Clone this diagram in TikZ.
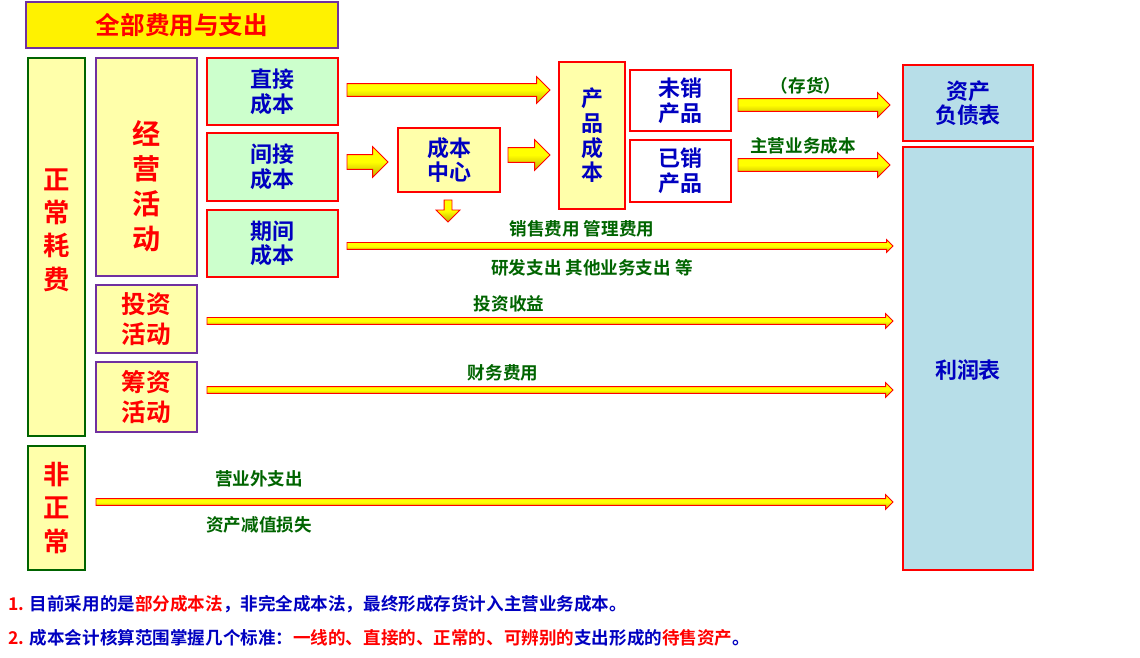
\documentclass[tikz,border=0pt]{standalone}
\usepackage{fontspec}
\setmainfont{Noto Sans CJK SC}[BoldFont={Noto Sans CJK SC Bold}]
\usetikzlibrary{shapes.arrows,positioning}
\definecolor{boxyellow}{RGB}{255,255,170}
\definecolor{boxgreen}{RGB}{204,255,204}
\definecolor{boxblue}{RGB}{183,222,232}
\definecolor{txtblue}{RGB}{0,0,192}
\definecolor{txtgreen}{RGB}{0,100,0}
\definecolor{frmpurple}{RGB}{112,48,160}
\definecolor{frmgreen}{RGB}{0,100,0}
\definecolor{arrdark}{RGB}{190,170,0}
% block arrow: name, tail x, y, length, shaft, head (pixels)
\newcommand{\blockarrow}[6]{%
  \node[blockarr, minimum height=#4*0.02cm, inner sep=#5*0.01cm,
        single arrow head extend=(#6-#5)*0.01cm] (#1) at (#2,#3) {};}
\tikzset{
  blockarr/.style={single arrow, anchor=tail, draw=red, line width=0.5pt,
    top color=yellow, bottom color=arrdark, middle color=yellow,
    minimum width=0pt, outer sep=0pt},
  box/.style={draw=red, line width=1.2pt, font=\bfseries\fontsize{12.5}{14}\selectfont,
    text=txtblue, align=center, inner sep=0pt},
  sidebox/.style={draw=frmpurple, line width=1.2pt, fill=boxyellow, text=red,
    font=\bfseries\fontsize{14}{17}\selectfont, align=center, inner sep=0pt},
  lbl/.style={text=txtgreen, font=\bfseries\fontsize{10}{12}\selectfont, inner sep=1pt},
  note/.style={anchor=west, font=\bfseries\fontsize{10}{12}\selectfont, inner sep=0pt}
}
\begin{document}
\begin{tikzpicture}[x=0.02cm,y=-0.02cm]
  \useasboundingbox (0,0) rectangle (1140,658);
  % left column
  \draw[frmpurple, line width=1.2pt, fill=yellow] (26,2) rectangle (338,48);
  \node[text=red, font=\bfseries\fontsize{14}{17}\selectfont] (title) at (182,25) {全部费用与支出};
  \draw[frmgreen, line width=1.2pt, fill=boxyellow] (28,58) rectangle (85,436);
  \node[text=red, align=center, font=\bfseries\fontsize{15}{19}\selectfont] (normal) at (56.5,230) {正\\常\\耗\\费};
  \draw[frmgreen, line width=1.2pt, fill=boxyellow] (28,446) rectangle (85,570);
  \node[text=red, align=center, font=\bfseries\fontsize{15}{19}\selectfont] (abnormal) at (56.5,508) {非\\正\\常};
  \draw[sidebox] (96,58) rectangle (197,276);
  \node[text=red, align=center, font=\bfseries\fontsize{16}{20}\selectfont] (oper) at (146.5,186) {经\\营\\活\\动};
  \draw[sidebox] (96,285) rectangle (197,353);
  \node[text=red, align=center, font=\bfseries\fontsize{14}{17}\selectfont] (inv) at (146.5,319) {投资\\活动};
  \draw[sidebox] (96,362) rectangle (197,432);
  \node[text=red, align=center, font=\bfseries\fontsize{14}{17}\selectfont] (fin) at (146.5,397) {筹资\\活动};
  % cost boxes
  \draw[box, fill=boxgreen] (207,58) rectangle (338,125);
  \node[box, draw=none] (direct) at (272.5,91.5) {直接\\成本};
  \draw[box, fill=boxgreen] (207,133) rectangle (338,201);
  \node[box, draw=none] (indirect) at (272.5,167) {间接\\成本};
  \draw[box, fill=boxgreen] (207,210) rectangle (338,277);
  \node[box, draw=none] (period) at (272.5,243.5) {期间\\成本};
  \draw[box, fill=boxyellow] (398,128) rectangle (500,192);
  \node[box, draw=none] (center) at (449,160) {成本\\中心};
  \draw[box, fill=boxyellow] (559,62) rectangle (625,209);
  \node[box, draw=none] (product) at (592,135.5) {产\\品\\成\\本};
  \draw[box, fill=white] (630,70) rectangle (731,131);
  \node[box, draw=none] (unsold) at (680.5,100.5) {未销\\产品};
  \draw[box, fill=white] (630,140) rectangle (731,202);
  \node[box, draw=none] (sold) at (680.5,171) {已销\\产品};
  \draw[box, fill=boxblue] (903,65) rectangle (1033,141);
  \node[box, draw=none] (balance) at (968,103) {资产\\负债表};
  \draw[box, fill=boxblue] (903,147) rectangle (1033,570);
  \node[box, draw=none] (income) at (968,370) {利润表};
  % arrows
  \blockarrow{a1}{347}{90}{203}{12}{26}
  \blockarrow{a2}{347}{162}{41}{14}{30}
  \blockarrow{a3}{508}{155}{42}{14}{30}
  \node[blockarr, rotate=-90, minimum height=22*0.02cm, inner sep=7*0.01cm,
        single arrow head extend=8*0.02cm] (a4) at (448,200) {};
  \blockarrow{a5}{738}{105}{152}{12}{24}
  \blockarrow{a6}{738}{165}{152}{12}{24}
  \blockarrow{a7}{347}{246}{546}{6}{12}
  \blockarrow{a8}{207}{321}{686}{6}{14}
  \blockarrow{a9}{207}{390}{686}{6}{14}
  \blockarrow{a10}{96}{502}{797}{6}{14}
  % arrow labels
  \node[lbl] (l1) at (806,86) {（存货）};
  \node[lbl] (l2) at (803,146) {主营业务成本};
  \node[lbl] (l3) at (582,229) {销售费用 管理费用};
  \node[lbl] (l4) at (592,268) {研发支出 其他业务支出 等};
  \node[lbl] (l5) at (509,304) {投资收益};
  \node[lbl] (l6) at (503,373) {财务费用};
  \node[lbl] (l7) at (259,479) {营业外支出};
  \node[lbl] (l8) at (259,525) {资产减值损失};
  % notes
  \node[note] (n1) at (8,604) {\textcolor{red}{1.} \textcolor{txtblue}{目前采用的是}\textcolor{red}{部分成本法}\textcolor{txtblue}{，非完全成本法，最终形成存货计入主营业务成本。}};
  \node[note] (n2) at (8,638) {\textcolor{red}{2.} \textcolor{txtblue}{成本会计核算范围掌握几个标准：}\textcolor{red}{一线的、直接的、正常的、可辨别的}\textcolor{txtblue}{支出形成的}\textcolor{red}{待售资产}\textcolor{txtblue}{。}};
\end{tikzpicture}
\end{document}
